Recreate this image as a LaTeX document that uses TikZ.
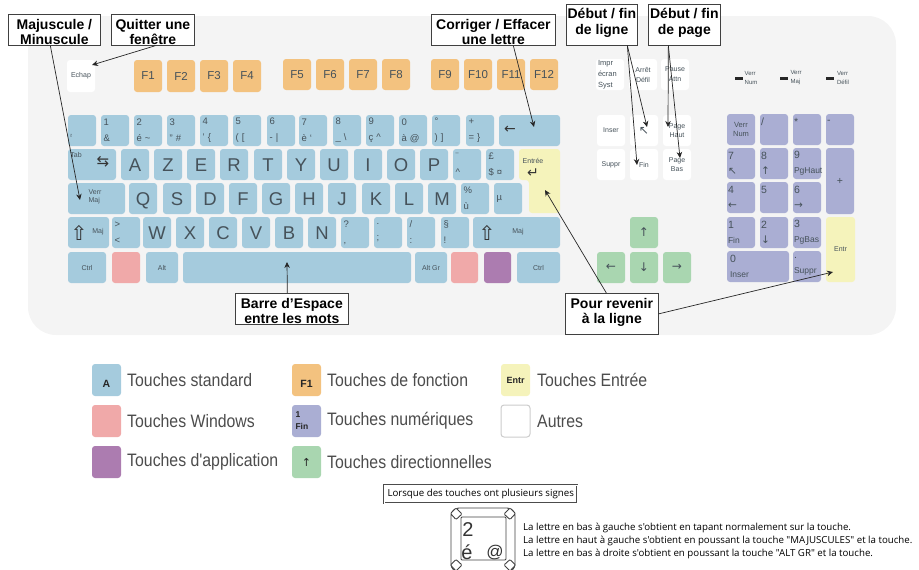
\documentclass[tikz,border=0pt]{standalone}
\usepackage{fontspec}
\usepackage{xcolor}
\setmainfont{Liberation Sans}
\newfontfamily\symbfont{DejaVu Sans}
\newfontfamily\legendfont[FakeStretch=0.88]{Liberation Sans}
\newfontfamily\notefont{Open Sans}
\usetikzlibrary{arrows.meta}
\usetikzlibrary{shapes}

\definecolor{bodycol}{HTML}{F4F4F4}
\definecolor{stdcol}{HTML}{A5CBDD}
\definecolor{fncol}{HTML}{F3C27F}
\definecolor{wincol}{HTML}{F0A9A9}
\definecolor{appcol}{HTML}{AC7CB0}
\definecolor{numcol}{HTML}{AAAED3}
\definecolor{dircol}{HTML}{A9D6B0}
\definecolor{entcol}{HTML}{F5F3BB}
\definecolor{inkcol}{HTML}{46525A}

\tikzset{
    keycap/.style={rounded corners=3pt, inner sep=0pt, outer sep=0pt, anchor=north west,
        minimum width=28pt, minimum height=31pt, text=inkcol, font=\fontsize{7}{8.5}\selectfont, align=center},
    stdkey/.style={keycap, fill=stdcol},
    letterkey/.style={stdkey, font=\fontsize{18.5}{18.5}\selectfont, text height=13.5pt, text depth=0pt},
    signkey/.style={stdkey, text width=23pt, align=left, font=\fontsize{9.5}{16}\selectfont},
    fnkey/.style={keycap, fill=fncol, font=\fontsize{11.5}{11.5}\selectfont},
    whitekey/.style={keycap, fill=white},
    numkey/.style={keycap, fill=numcol, text width=26pt, align=left, font=\fontsize{10.5}{15}\selectfont},
    dirkey/.style={keycap, fill=dircol, font=\symbfont\fontsize{12}{12}\selectfont},
    smalltxt/.style={inner sep=0pt, text=inkcol, font=\fontsize{7}{8.5}\selectfont, align=left},
    symtxt/.style={inner sep=0pt, text=black!80, font=\symbfont\fontsize{14}{14}\selectfont},
    callout/.style={draw=black!75, fill=white, line width=0.7pt, inner sep=0pt, anchor=north west,
        align=center, font=\bfseries\fontsize{14}{15.5}\selectfont},
    callarrow/.style={-{Stealth[length=6pt, width=5.5pt]}, black!85, line width=0.7pt},
    legkey/.style={keycap, minimum width=29pt, minimum height=32pt, font=\bfseries\fontsize{10.5}{11}\selectfont, text=black!85},
    legtxt/.style={inner sep=0pt, anchor=west, text=black!70, font=\legendfont\fontsize{18}{18}\selectfont},
    keyline/.style={black!75, line width=0.9pt},
}

\begin{document}
\begin{tikzpicture}[x=1pt, y=-1pt]
        \useasboundingbox (0, 0) rectangle (919, 570);
        \fill[bodycol, rounded corners=28pt] (28, 16) rectangle (896, 335);

        % top row
        \node[whitekey, minimum height=32pt] (kEsc) at (67, 60) {Echap};
        \node[fnkey, minimum height=32pt] (kFa) at (134, 60) {F1};
        \node[fnkey, minimum height=32pt] (kFb) at (167, 60) {F2};
        \node[fnkey, minimum height=32pt] (kFc) at (200, 60) {F3};
        \node[fnkey, minimum height=32pt] (kFd) at (233, 60) {F4};
        \node[fnkey] (kFe) at (283, 59) {F5};
        \node[fnkey] (kFf) at (316, 59) {F6};
        \node[fnkey] (kFg) at (349, 59) {F7};
        \node[fnkey] (kFh) at (382, 59) {F8};
        \node[fnkey] (kFi) at (431, 59) {F9};
        \node[fnkey] (kFj) at (464, 59) {F10};
        \node[fnkey] (kFk) at (497, 59) {F11};
        \node[fnkey] (kFl) at (530, 59) {F12};

        % digits row
        \node[signkey, text width=24pt] (kSq) at (68, 115) {~\\{\fontsize{6}{6}\selectfont ²}};
        \node[signkey] (kOne) at (101, 115) {1\\\&};
        \node[signkey] (kTwo) at (134, 115) {2\\é \textasciitilde};
        \node[signkey] (kThree) at (167, 115) {3\\" \#};
        \node[signkey] (kFour) at (200, 115) {4\\' \{};
        \node[signkey] (kFive) at (233, 115) {5\\( [};
        \node[signkey] (kSix) at (267, 115) {6\\- |};
        \node[signkey] (kSeven) at (299, 115) {7\\è `};
        \node[signkey] (kEight) at (333, 115) {8\\\_ \textbackslash};
        \node[signkey] (kNine) at (366, 115) {9\\ç \textasciicircum};
        \node[signkey] (kZero) at (399, 115) {0\\à @};
        \node[signkey] (kDeg) at (432, 115) {°\\) ]};
        \node[signkey] (kPlus) at (466, 115) {+\\= \}};
        \node[stdkey, minimum width=61pt] (kBack) at (499, 115) {};
        \node[symtxt] (sBack) at (510, 130) {←};

        % AZERTY row
        \node[stdkey, minimum width=48pt] (kTab) at (68, 149) {};
        \node[smalltxt] (lTab) at (76, 155) {Tab};
        \node[symtxt, font=\symbfont\fontsize{15}{15}\selectfont] (sTab) at (103, 162) {⇆};
        \node[letterkey] (kA) at (121, 149) {A};
        \node[letterkey] (kZ) at (154, 149) {Z};
        \node[letterkey] (kE) at (187, 149) {E};
        \node[letterkey] (kR) at (220, 149) {R};
        \node[letterkey] (kT) at (254, 149) {T};
        \node[letterkey] (kY) at (287, 149) {Y};
        \node[letterkey] (kU) at (320, 149) {U};
        \node[letterkey] (kI) at (354, 149) {I};
        \node[letterkey] (kO) at (387, 149) {O};
        \node[letterkey] (kP) at (420, 149) {P};
        \node[signkey] (kUml) at (453, 149) {¨\\\textasciicircum};
        \node[signkey] (kPound) at (486, 149) {£\\\$ ¤};
        \fill[entcol, rounded corners=3pt] (519, 149) -- (560, 149) -- (560, 213) -- (529, 213)
            -- (529, 180) -- (519, 180) -- cycle;
        \node[smalltxt] (lEnter) at (533, 161) {Entrée};
        \node[symtxt] (sEnter) at (533, 173) {↵};

        % QSDFGH row
        \node[stdkey, minimum width=57pt] (kCaps) at (68, 183) {};
        \node[smalltxt] (lCaps) at (95, 197) {Verr\\Maj};
        \node[letterkey] (kQ) at (129, 183) {Q};
        \node[letterkey] (kS) at (163, 183) {S};
        \node[letterkey] (kD) at (196, 183) {D};
        \node[letterkey] (kF) at (229, 183) {F};
        \node[letterkey] (kG) at (262, 183) {G};
        \node[letterkey] (kH) at (295, 183) {H};
        \node[letterkey] (kJ) at (328, 183) {J};
        \node[letterkey] (kK) at (362, 183) {K};
        \node[letterkey] (kL) at (395, 183) {L};
        \node[letterkey] (kM) at (428, 183) {M};
        \node[signkey] (kPct) at (461, 183) {\%\\ù};
        \node[signkey] (kMu) at (494, 183) {µ\\*};

        % WXCV row
        \node[stdkey, minimum width=41pt] (kShiftL) at (68, 217) {};
        \node[symtxt, font=\symbfont\fontsize{20}{20}\selectfont] (sShiftL) at (79, 233) {⇧};
        \node[smalltxt] (lShiftL) at (98, 232) {Maj};
        \node[signkey, minimum width=28pt] (kLess) at (112, 217) {>\\<};
        \node[letterkey] (kW) at (143, 217) {W};
        \node[letterkey] (kX) at (176, 217) {X};
        \node[letterkey] (kC) at (209, 217) {C};
        \node[letterkey] (kV) at (242, 217) {V};
        \node[letterkey] (kB) at (275, 217) {B};
        \node[letterkey] (kN) at (308, 217) {N};
        \node[signkey] (kQuest) at (341, 217) {?\\,};
        \node[signkey] (kDot) at (374, 217) {.\\;};
        \node[signkey] (kSlash) at (407, 217) {/\\:};
        \node[signkey] (kSect) at (441, 217) {§\\!};
        \node[stdkey, minimum width=87pt] (kShiftR) at (473, 217) {};
        \node[symtxt, font=\symbfont\fontsize{20}{20}\selectfont] (sShiftR) at (487, 233) {⇧};
        \node[smalltxt] (lShiftR) at (518, 232) {Maj};

        % space row
        \node[stdkey, minimum width=38pt] (kCtrlL) at (68, 252) {Ctrl};
        \node[keycap, fill=wincol] (kWinL) at (112, 252) {};
        \node[stdkey, minimum width=32pt] (kAlt) at (146, 252) {Alt};
        \node[stdkey, minimum width=228pt] (kSpace) at (183, 252) {};
        \node[stdkey, minimum width=32pt] (kAltGr) at (415, 252) {Alt Gr};
        \node[keycap, fill=wincol, minimum width=27pt] (kWinR) at (451, 252) {};
        \node[keycap, fill=appcol, minimum width=27pt] (kApp) at (484, 252) {};
        \node[stdkey, minimum width=43pt] (kCtrlR) at (517, 252) {Ctrl};

        % middle block
        \node[whitekey, text width=24pt, align=left, font=\fontsize{7.5}{11}\selectfont] (kPrint) at (596, 59) {Impr\\écran\\Syst};
        \node[whitekey, font=\fontsize{7}{10}\selectfont] (kScroll) at (629, 59) {Arrêt\\Défil};
        \node[whitekey, font=\fontsize{7}{10}\selectfont] (kPause) at (661, 59) {Pause\\Attn};
        \node[whitekey] (kIns) at (597, 115) {Inser};
        \node[whitekey, font=\symbfont\fontsize{12}{12}\selectfont] (kHome) at (630, 115) {↖};
        \node[whitekey] (kPgUp) at (663, 115) {Page\\Haut};
        \node[whitekey] (kDel) at (597, 149) {Suppr};
        \node[whitekey] (kEnd) at (630, 149) {Fin};
        \node[whitekey] (kPgDn) at (663, 149) {Page\\Bas};
        \node[dirkey] (kUp) at (630, 217) {↑};
        \node[dirkey] (kLeft) at (597, 252) {←};
        \node[dirkey] (kDown) at (630, 252) {↓};
        \node[dirkey] (kRight) at (663, 252) {→};

        % lock lights
        \fill[black!85] (735, 76.5) rectangle (743, 80);
        \fill[black!85] (780, 76.5) rectangle (788, 80);
        \fill[black!85] (826, 76.5) rectangle (834, 80);
        \node[smalltxt, font=\fontsize{6}{9}\selectfont] (lLedNum) at (751, 78) {Verr\\Num};
        \node[smalltxt, font=\fontsize{6}{9}\selectfont] (lLedMaj) at (796, 78) {Verr\\Maj};
        \node[smalltxt, font=\fontsize{6}{9}\selectfont] (lLedDef) at (843, 78) {Verr\\Défil};

        % numeric pad
        \node[numkey, align=center, font=\fontsize{7.5}{9.5}\selectfont] (nLock) at (727, 114) {Verr\\Num};
        \node[numkey] (nSlash) at (760, 114) {/\\~};
        \node[numkey] (nStar) at (793, 114) {*\\~};
        \node[numkey] (nMinus) at (826, 114) {-\\~};
        \node[numkey] (nSeven) at (727, 148) {7\\{\symbfont ↖}};
        \node[numkey] (nEight) at (760, 148) {8\\{\symbfont ↑}};
        \node[numkey] (nNine) at (793, 148) {9\\{\fontsize{8.5}{8}\selectfont PgHaut}};
        \node[numkey, minimum height=66pt, align=center] (nPlus) at (826, 148) {+};
        \node[numkey] (nFour) at (727, 182) {4\\{\symbfont ←}};
        \node[numkey] (nFive) at (760, 182) {5\\~};
        \node[numkey] (nSix) at (793, 182) {6\\{\symbfont →}};
        \node[numkey] (nOne) at (727, 217) {1\\{\fontsize{8.5}{8}\selectfont Fin}};
        \node[numkey] (nTwo) at (760, 217) {2\\{\symbfont ↓}};
        \node[numkey] (nThree) at (793, 217) {3\\{\fontsize{8.5}{8}\selectfont PgBas}};
        \node[keycap, fill=entcol, minimum width=29pt, minimum height=65pt] (nEnter) at (826, 217) {Entr};
        \node[numkey, minimum width=62pt, text width=56pt] (nZero) at (727, 251) {0\\{\fontsize{8.5}{8}\selectfont Inser}};
        \node[numkey] (nPoint) at (793, 251) {.\\{\fontsize{8.5}{8}\selectfont Suppr}};

        % callouts
        \node[callout, minimum width=92pt, text height=30.5pt, text depth=0.5pt] (callCase) at (8, 14) {Majuscule /\\Minuscule};
        \node[callout, minimum width=83pt, text height=30.5pt, text depth=0.5pt] (callQuit) at (111, 14) {Quitter une\\fenêtre};
        \node[callout, minimum width=124pt, text height=30.5pt, text depth=0.5pt] (callBack) at (431, 14) {Corriger / Effacer\\une lettre};
        \node[callout, minimum width=71pt, text height=30pt, text depth=11pt] (callLine) at (566, 4) {Début / fin\\de ligne};
        \node[callout, minimum width=72pt, text height=30pt, text depth=11pt] (callPage) at (648, 4) {Début / fin\\de page};
        \node[callout, minimum width=113pt, text height=30.5pt, text depth=0.5pt] (callSpace) at (235, 293) {Barre d’Espace\\entre les mots};
        \node[callout, minimum width=93pt, text height=30.5pt, text depth=10.5pt] (callEnter) at (565, 293) {Pour revenir\\à la ligne};

        \coordinate (hitCaps) at (80, 200);
        \coordinate (hitEsc) at (92, 65);
        \coordinate (hitBack) at (534, 127);
        \coordinate (hitHome) at (647, 127);
        \coordinate (hitEnd) at (637, 165);
        \coordinate (hitPgUp) at (668, 127);
        \coordinate (hitPgDn) at (680, 158);
        \coordinate (hitSpace) at (287, 262);
        \coordinate (hitEnter) at (545, 190);
        \coordinate (hitEntr) at (833, 272);

        \draw[callarrow] ([xshift=-4pt]callCase.south) -- (hitCaps);
        \draw[callarrow] ([xshift=2.5pt]callQuit.south) -- (hitEsc);
        \draw[callarrow] ([xshift=20pt]callBack.south) -- (hitBack);
        \draw[callarrow] ([xshift=25.5pt]callLine.south) -- (hitHome);
        \draw[callarrow] ([xshift=25.5pt]callLine.south) -- (hitEnd);
        \draw[callarrow] ([xshift=-16pt]callPage.south) -- (hitPgUp);
        \draw[callarrow] ([xshift=-16pt]callPage.south) -- (hitPgDn);
        \draw[callarrow] ([xshift=-4.5pt]callSpace.north) -- (hitSpace);
        \draw[callarrow] ([xshift=-5.5pt]callEnter.north) -- (hitEnter);
        \draw[callarrow] (callEnter.east) -- (hitEntr);

        % legend
        \node[legkey, fill=stdcol] (legStd) at (92, 364) {\\[3pt]A};
        \node[legkey, fill=wincol] (legWin) at (92, 405) {};
        \node[legkey, fill=appcol] (legApp) at (92, 446) {};
        \node[legkey, fill=fncol] (legFn) at (292, 364) {\\[4pt]F1};
        \node[legkey, fill=numcol, text width=22pt, align=left, font=\bfseries\fontsize{8.5}{12}\selectfont] (legNum) at (292, 405) {1\\Fin};
        \node[legkey, fill=dircol, font=\symbfont\fontsize{11}{11}\selectfont] (legDir) at (292, 446) {↑};
        \node[legkey, fill=entcol, font=\bfseries\fontsize{9}{11}\selectfont] (legEnt) at (501, 364) {Entr};
        \node[legkey, fill=white, draw=black!20, line width=1pt] (legOth) at (501, 405) {};

        \node[legtxt] (txtStd) at (127, 380) {Touches standard};
        \node[legtxt] (txtWin) at (127, 421) {Touches Windows};
        \node[legtxt] (txtApp) at (127, 462) {Touches d'application};
        \node[legtxt] (txtFn) at (327, 380) {Touches de fonction};
        \node[legtxt] (txtNum) at (327, 421) {Touches numériques};
        \node[legtxt] (txtDir) at (327, 462) {Touches directionnelles};
        \node[legtxt] (txtEnt) at (537, 380) {Touches Entrée};
        \node[legtxt] (txtOth) at (537, 421) {Autres};

        % key with several signs
        \node[draw=black!70, double=white, double distance=0.8pt, inner sep=0pt, anchor=north west,
            minimum width=193pt, minimum height=18pt, font=\notefont\fontsize{9.7}{10}\selectfont] (noteTitle) at (384, 485)
            {Lorsque des touches ont plusieurs signes};
        \draw[keyline, rounded corners=8pt] (451, 508) rectangle (515, 572);
        \draw[keyline, rounded corners=1pt] (461, 517) rectangle (506, 560);
        \draw[keyline, fill=white, rounded corners=1pt] (450.5, 513.5) -- (456, 508) -- (462, 514) -- (456, 519.5) -- cycle;
        \draw[keyline, fill=white, rounded corners=1pt] (515.5, 513.5) -- (510, 508) -- (504, 514) -- (510, 519.5) -- cycle;
        \draw[keyline, fill=white, rounded corners=1pt] (450.5, 565) -- (456, 559.5) -- (462, 565) -- (456, 571) -- cycle;
        \draw[keyline, fill=white, rounded corners=1pt] (515.5, 565) -- (510, 559.5) -- (504, 565) -- (510, 571) -- cycle;
        \node[inner sep=0pt, text=black!80, font=\fontsize{20}{20}\selectfont] (sigTop) at (468, 530) {2};
        \node[inner sep=0pt, text=black!80, font=\fontsize{20}{20}\selectfont] (sigLow) at (467, 552) {é};
        \node[inner sep=0pt, text=black!80, font=\fontsize{17}{17}\selectfont] (sigAlt) at (495, 553) {@};
        \node[inner sep=0pt, anchor=west, align=left, font=\notefont\fontsize{9.7}{13}\selectfont] (noteLines) at (523, 541)
            {La lettre en bas à gauche s'obtient en tapant normalement sur la touche.\\
             La lettre en haut à gauche s'obtient en poussant la touche "MAJUSCULES" et la touche.\\
             La lettre en bas à droite s'obtient en poussant la touche "ALT GR" et la touche.};
\end{tikzpicture}
\end{document}
